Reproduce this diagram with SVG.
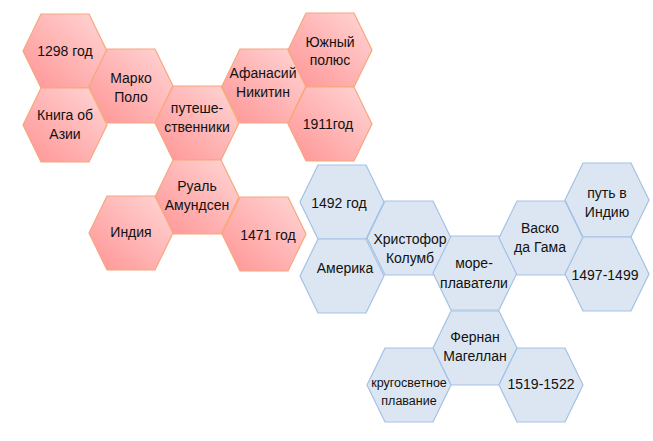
<svg xmlns="http://www.w3.org/2000/svg" xmlns:xlink="http://www.w3.org/1999/xlink" width="653" height="441" viewBox="0 0 653 441">
<defs>
<linearGradient id="gp" x1="1" y1="0" x2="0" y2="1">
<stop offset="0" stop-color="#FFD6D6"/>
<stop offset="1" stop-color="#FF9494"/>
</linearGradient>
<path id="hex" d="M-42,0 L-24,-37 L24,-37 L42,0 L24,37 L-24,37 Z"/>
<style>
.pink{fill:url(#gp);stroke:#F6A77C;stroke-width:1.2}
.blue{fill:#DCE6F2;stroke:#A3C1E6;stroke-width:1.2}
text{font-family:"Liberation Sans",Arial,sans-serif;font-size:14px;fill:#111;text-anchor:middle;dominant-baseline:central}
.sm{font-size:12.5px}
</style>
</defs>
<rect width="653" height="441" fill="#fff"/>
<g id="connectors"></g>
<g id="n1298"><use xlink:href="#hex" class="pink" x="65" y="51"/><text x="65" y="51">1298 год</text></g>
<g id="nkniga"><use xlink:href="#hex" class="pink" x="65" y="125"/><text x="65" y="115">Книга об</text><text x="65" y="134">Азии</text></g>
<g id="nmarko"><use xlink:href="#hex" class="pink" x="131" y="86"/><text x="131" y="78">Марко</text><text x="131" y="97">Поло</text></g>
<g id="nputesh"><use xlink:href="#hex" class="pink" x="197" y="123"/><text x="197" y="108">путеше-</text><text x="197" y="127">ственники</text></g>
<g id="nafanasy"><use xlink:href="#hex" class="pink" x="264" y="86"/><text x="263" y="73">Афанасий</text><text x="263" y="92">Никитин</text></g>
<g id="nyuzhny"><use xlink:href="#hex" class="pink" x="330" y="50"/><text x="330" y="42">Южный</text><text x="330" y="60">полюс</text></g>
<g id="n1911"><use xlink:href="#hex" class="pink" x="330" y="124"/><text x="328" y="124">1911год</text></g>
<g id="nrual"><use xlink:href="#hex" class="pink" x="197" y="197"/><text x="197" y="186">Руаль</text><text x="197" y="205">Амундсен</text></g>
<g id="nindia"><use xlink:href="#hex" class="pink" x="131" y="233"/><text x="131" y="232">Индия</text></g>
<g id="n1471"><use xlink:href="#hex" class="pink" x="264" y="234"/><text x="268" y="235">1471 год</text></g>
<g id="n1492"><use xlink:href="#hex" class="blue" x="342" y="202"/><text x="339" y="203">1492 год</text></g>
<g id="namerika"><use xlink:href="#hex" class="blue" x="342" y="276"/><text x="345" y="268">Америка</text></g>
<g id="nkolumb"><use xlink:href="#hex" class="blue" x="409" y="238"/><text x="410" y="239">Христофор</text><text x="410" y="258">Колумб</text></g>
<g id="nmore"><use xlink:href="#hex" class="blue" x="475" y="273"/><text x="474" y="263">море-</text><text x="474" y="283">плаватели</text></g>
<g id="nvasko"><use xlink:href="#hex" class="blue" x="541" y="238"/><text x="540" y="228">Васко</text><text x="540" y="247">да Гама</text></g>
<g id="nput"><use xlink:href="#hex" class="blue" x="607" y="200"/><text x="607" y="193">путь в</text><text x="607" y="212">Индию</text></g>
<g id="n1497"><use xlink:href="#hex" class="blue" x="607" y="274"/><text x="605" y="275">1497-1499</text></g>
<g id="nmagellan"><use xlink:href="#hex" class="blue" x="475" y="348"/><text x="475" y="337">Фернан</text><text x="475" y="356">Магеллан</text></g>
<g id="nkrug"><use xlink:href="#hex" class="blue" x="409" y="385"/><text class="sm" x="409" y="383">кругосветное</text><text class="sm" x="409" y="401">плавание</text></g>
<g id="n1519"><use xlink:href="#hex" class="blue" x="541" y="385"/><text x="541" y="384">1519-1522</text></g>
</svg>
